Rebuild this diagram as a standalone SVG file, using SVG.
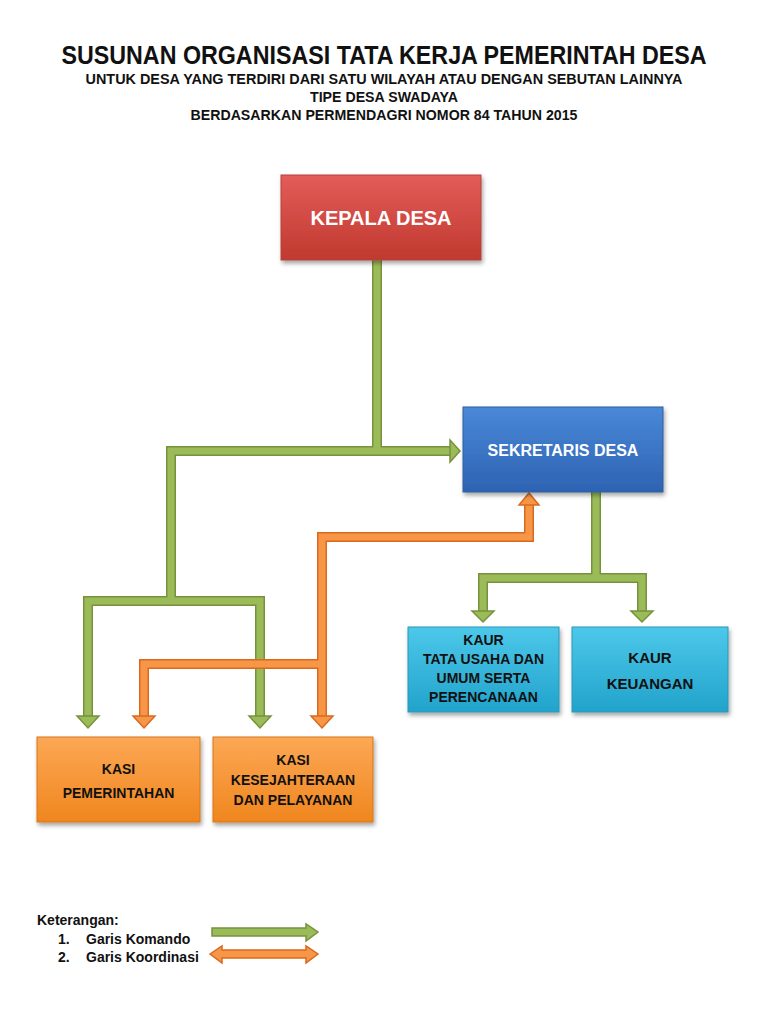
<svg xmlns="http://www.w3.org/2000/svg" width="768" height="1024" viewBox="0 0 768 1024">
<style>
.t{font-family:"Liberation Sans",Arial,sans-serif;font-weight:bold;text-anchor:middle}
.w{fill:#ffffff}
.d{fill:#111111}
.go{fill:none;stroke:#76923c;stroke-width:10;stroke-linejoin:miter}
.gi{fill:none;stroke:#9bbb59;stroke-width:7;stroke-linejoin:miter}
.gh{fill:#9bbb59;stroke:#76923c;stroke-width:1.5;stroke-linejoin:miter}
.oo{fill:none;stroke:#d9691e;stroke-width:10;stroke-linejoin:miter}
.oi{fill:none;stroke:#f79646;stroke-width:7;stroke-linejoin:miter}
.oh{fill:#f79646;stroke:#d9691e;stroke-width:1.5;stroke-linejoin:miter}
.lg{font-family:"Liberation Sans",Arial,sans-serif;font-weight:bold;font-size:14px;fill:#111}
</style>
<defs>
<linearGradient id="red" x1="0" y1="0" x2="0" y2="1"><stop offset="0" stop-color="#e45c59"/><stop offset="1" stop-color="#c0392f"/></linearGradient>
<linearGradient id="blue" x1="0" y1="0" x2="0" y2="1"><stop offset="0" stop-color="#4a88d8"/><stop offset="1" stop-color="#2d63b2"/></linearGradient>
<linearGradient id="cyan" x1="0" y1="0" x2="0" y2="1"><stop offset="0" stop-color="#4cc8ea"/><stop offset="1" stop-color="#22a3cb"/></linearGradient>
<linearGradient id="orange" x1="0" y1="0" x2="0" y2="1"><stop offset="0" stop-color="#fca855"/><stop offset="1" stop-color="#f0861e"/></linearGradient>
<filter id="sh" x="-10%" y="-10%" width="125%" height="135%"><feDropShadow dx="1.5" dy="3" stdDeviation="2" flood-color="#000" flood-opacity="0.35"/></filter>
</defs>
<rect width="768" height="1024" fill="#ffffff"/>

<g id="title">
<text class="t d" transform="translate(384,64) scale(0.895,1)" x="0" y="0" font-size="26">SUSUNAN ORGANISASI TATA KERJA PEMERINTAH DESA</text>
<text class="t d" x="384" y="84" font-size="14" textLength="597" lengthAdjust="spacingAndGlyphs">UNTUK DESA YANG TERDIRI DARI SATU WILAYAH ATAU DENGAN SEBUTAN LAINNYA</text>
<text class="t d" x="384" y="102" font-size="14" textLength="148" lengthAdjust="spacingAndGlyphs">TIPE DESA SWADAYA</text>
<text class="t d" x="384" y="120" font-size="14" textLength="387" lengthAdjust="spacingAndGlyphs">BERDASARKAN PERMENDAGRI NOMOR 84 TAHUN 2015</text>
</g>

<g id="connectors">
<path class="go" d="M377 260 V451"/>
<path class="go" d="M171 601 V451 H381"/>
<path class="go" d="M381 451 H452"/>
<path class="go" d="M88 716 V601 H260 V716"/>
<path class="go" d="M596 492 V578"/>
<path class="go" d="M483 612 V578 H642 V612"/>
<path class="gi" d="M377 260 V451"/>
<path class="gi" d="M171 601 V451 H381"/>
<path class="gi" d="M381 451 H452"/>
<path class="gi" d="M88 716 V601 H260 V716"/>
<path class="gi" d="M596 492 V578"/>
<path class="gi" d="M483 612 V578 H642 V612"/>
<polygon class="gh" points="450,440 460,451 450,462"/>
<polygon class="gh" points="77,716 99,716 88,728"/>
<polygon class="gh" points="249,716 271,716 260,728"/>
<polygon class="gh" points="472,611 494,611 483,622"/>
<polygon class="gh" points="631,611 653,611 642,622"/>
<path class="oo" d="M529 505 V537 H322 V716"/>
<path class="oo" d="M144 716 V664 H322"/>
<path class="oi" d="M529 505 V537 H322 V716"/>
<path class="oi" d="M144 716 V664 H322"/>
<polygon class="oh" points="519,505 539,505 529,493"/>
<polygon class="oh" points="311,716 333,716 322,728"/>
<polygon class="oh" points="133,716 155,716 144,728"/>
</g>

<g id="kepala-desa">
<rect x="281" y="175" width="200" height="85" fill="url(#red)" stroke="#b5403c" stroke-width="1" filter="url(#sh)"/>
<text class="t w" x="381" y="225" font-size="20">KEPALA DESA</text>
</g>

<g id="sekretaris-desa">
<rect x="463" y="407" width="200" height="85" fill="url(#blue)" stroke="#2f5f9e" stroke-width="1" filter="url(#sh)"/>
<text class="t w" x="563" y="456" font-size="16">SEKRETARIS DESA</text>
</g>

<g id="kaur-tata-usaha">
<rect x="408" y="627" width="151" height="85" fill="url(#cyan)" stroke="#2a97b8" stroke-width="1" filter="url(#sh)"/>
<text class="t d" x="483.5" y="645" font-size="14">KAUR</text>
<text class="t d" x="483.5" y="664" font-size="14">TATA USAHA DAN</text>
<text class="t d" x="483.5" y="683" font-size="14">UMUM SERTA</text>
<text class="t d" x="483.5" y="702" font-size="14">PERENCANAAN</text>
</g>

<g id="kaur-keuangan">
<rect x="572" y="627" width="156" height="85" fill="url(#cyan)" stroke="#2a97b8" stroke-width="1" filter="url(#sh)"/>
<text class="t d" x="650" y="663" font-size="15">KAUR</text>
<text class="t d" x="650" y="689" font-size="15">KEUANGAN</text>
</g>

<g id="kasi-pemerintahan">
<rect x="37" y="737" width="163" height="85" fill="url(#orange)" stroke="#d8761c" stroke-width="1" filter="url(#sh)"/>
<text class="t d" x="118.5" y="774" font-size="14">KASI</text>
<text class="t d" x="118.5" y="798" font-size="14">PEMERINTAHAN</text>
</g>

<g id="kasi-kesejahteraan">
<rect x="213" y="737" width="160" height="85" fill="url(#orange)" stroke="#d8761c" stroke-width="1" filter="url(#sh)"/>
<text class="t d" x="293" y="765" font-size="14">KASI</text>
<text class="t d" x="293" y="785" font-size="14">KESEJAHTERAAN</text>
<text class="t d" x="293" y="805" font-size="14">DAN PELAYANAN</text>
</g>

<g id="legend">
<text class="lg" x="37" y="925">Keterangan:</text>
<text class="lg" x="58" y="944">1.</text>
<text class="lg" x="86" y="944">Garis Komando</text>
<text class="lg" x="58" y="962">2.</text>
<text class="lg" x="86" y="962">Garis Koordinasi</text>
<polygon class="gh" points="212,928 306,928 306,924 318,932 306,941 306,936 212,936"/>
<polygon class="oh" points="210,954 222,946 222,950 306,950 306,946 318,954 306,963 306,958 222,958 222,963"/>
</g>
</svg>
